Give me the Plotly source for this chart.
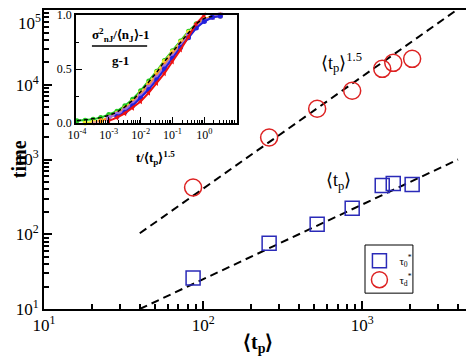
import plotly.graph_objects as go

# ---------------- data ----------------
tp = [86.5, 260, 521, 865, 1336, 1567, 2060]
tau0 = [25.9, 75.9, 136, 222, 450, 479, 464]
taud = [423, 1966, 4786, 8318, 16330, 19640, 22220]

fit_x = [40, 4000]
fit_hi = [103, 103000]
fit_lo = [10, 1000]

inset_x = [1.0e-4, 1.8e-4, 3.2e-4, 5.6e-4, 1.0e-3, 1.8e-3, 3.2e-3, 5.6e-3, 1.0e-2, 1.8e-2,
           3.2e-2, 5.6e-2, 1.0e-1, 1.8e-1, 3.2e-1, 5.6e-1, 1.0, 1.8, 3.2]
inset_green = [0.02, 0.025, 0.035, 0.05, 0.08, 0.11, 0.16, 0.22, 0.30, 0.39, 0.48, 0.58, 0.67, 0.76, 0.85, 0.92, 0.96, 0.99, None]
inset_yellow = [None, 0.0, 0.01, 0.02, 0.05, 0.09, 0.14, 0.20, 0.28, 0.37, 0.47, 0.57, 0.66, 0.75, 0.84, 0.91, 0.95, 0.98, 0.99]
inset_pink = [None, None, 0.0, 0.02, 0.05, 0.09, 0.13, 0.19, 0.27, 0.36, 0.45, 0.55, 0.65, 0.74, 0.83, 0.91, 0.96, 0.99, 1.0]
inset_orange = [None, None, None, 0.02, 0.05, 0.08, 0.13, 0.19, 0.26, 0.35, 0.44, 0.54, 0.64, 0.73, 0.82, 0.90, 0.96, 0.99, 1.0]
inset_violet = [None, None, None, None, 0.05, 0.08, 0.12, 0.18, 0.25, 0.33, 0.42, 0.52, 0.62, 0.72, 0.81, 0.89, 0.95, 0.98, 1.0]
inset_blue = [None, None, None, None, None, 0.06, 0.10, 0.16, 0.23, 0.31, 0.40, 0.50, 0.60, 0.70, 0.79, 0.88, 0.94, 0.98, 0.99]
inset_red = [None, None, None, None, 0.02, 0.05, 0.09, 0.14, 0.20, 0.28, 0.37, 0.46, 0.57, 0.68, 0.80, 0.92, 1.0, None, None]
inset_black = [0.02, 0.03, 0.04, 0.05, 0.07, 0.10, 0.15, 0.21, 0.29, 0.38, 0.47, 0.57, 0.66, 0.75, 0.84, 0.92, 0.97, 0.99, None]

main_xticks = [10, 100, 1000]
main_xticktext = ["10<sup>1</sup>", "10<sup>2</sup>", "10<sup>3</sup>"]
main_yticks = [10, 100, 1000, 10000, 100000]
main_yticktext = ["10<sup>1</sup>", "10<sup>2</sup>", "10<sup>3</sup>", "10<sup>4</sup>", ""]
top_ylabel = "10<sup>5</sup>"
inset_xticks = [1e-4, 1e-3, 1e-2, 1e-1, 1]
inset_xticktext = ["10<sup>-4</sup>", "10<sup>-3</sup>", "10<sup>-2</sup>", "10<sup>-1</sup>", "10<sup>0</sup>"]
inset_yticks = [0, 0.5, 1.0]
inset_yticktext = ["0.0", "0.5", "1.0"]

FONT = "Liberation Serif"

fig = go.Figure()

# main fits
for fy in (fit_hi, fit_lo):
    fig.add_trace(go.Scatter(x=fit_x, y=fy, mode="lines", showlegend=False,
                             line=dict(color="black", width=2, dash="8px,5px"),
                             xaxis="x", yaxis="y"))

fig.add_trace(go.Scatter(x=tp, y=tau0, mode="markers", name="τ<sub>0</sub><sup>*</sup>",
                         marker=dict(symbol="square-open", size=14, color="#2a2ab8",
                                     line=dict(width=1.5, color="#2a2ab8")),
                         xaxis="x", yaxis="y"))
fig.add_trace(go.Scatter(x=tp, y=taud, mode="markers", name="τ<sub>d</sub><sup>*</sup>",
                         marker=dict(symbol="circle-open", size=17, color="#dd2222",
                                     line=dict(width=1.5, color="#dd2222")),
                         xaxis="x", yaxis="y"))

# inset series
inset_series = [
    (inset_green, "#22cc22", "circle"),
    (inset_yellow, "#eeee22", "circle"),
    (inset_pink, "#f0a0a0", "triangle-left"),
    (inset_orange, "#ff9922", "diamond"),
    (inset_violet, "#a070e0", "square"),
    (inset_blue, "#2222dd", "circle"),
    (inset_red, "#ee1111", "triangle-left"),
]
for ys, col, sym in inset_series:
    fig.add_trace(go.Scatter(x=inset_x, y=ys, mode="lines+markers", showlegend=False,
                             line=dict(color=col, width=2),
                             marker=dict(symbol=sym, size=5, color=col),
                             xaxis="x2", yaxis="y2", cliponaxis=False))
fig.add_trace(go.Scatter(x=inset_x, y=inset_black, mode="lines", showlegend=False,
                         line=dict(color="black", width=1.5, dash="4px,3px"),
                         xaxis="x2", yaxis="y2"))

axis_common = dict(showline=True, linewidth=2, linecolor="black", mirror=True,
                   showgrid=False, zeroline=False, ticks="inside", tickcolor="black",
                   tickwidth=1.5, automargin=False)

# the page body adds an 8px offset, so the figure is 8px smaller than the window
fig.update_layout(
    width=466, height=355,
    margin=dict(l=36, r=2, t=2, b=54, autoexpand=False),
    paper_bgcolor="white", plot_bgcolor="white",
    font=dict(family=FONT, color="black"),
    xaxis=dict(type="log", range=[1, 3.69], tickmode="array", tickvals=main_xticks,
               ticktext=main_xticktext, ticklen=8,
               tickfont=dict(size=17, family=FONT, color="black"),
               minor=dict(ticks="inside", ticklen=5, tickcolor="black", tickwidth=1.5,
                          tickmode="array",
                          tickvals=[20, 30, 40, 50, 60, 70, 80, 90, 200, 300, 400, 500, 600, 700, 800, 900,
                                    2000, 3000, 4000]),
               **axis_common),
    yaxis=dict(type="log", range=[1, 5.0002], tickmode="array", tickvals=main_yticks,
               ticktext=main_yticktext, ticklen=8,
               tickfont=dict(size=17, family=FONT, color="black"),
               minor=dict(ticks="inside", ticklen=5, tickcolor="black", tickwidth=1.5,
                          tickmode="array",
                          tickvals=[20, 30, 40, 50, 60, 70, 80, 90, 200, 300, 400, 500, 600, 700, 800, 900,
                                    2000, 3000, 4000, 5000, 6000, 7000, 8000, 9000,
                                    20000, 30000, 40000, 50000, 60000, 70000, 80000, 90000]),
               **axis_common),
    xaxis2=dict(type="log", range=[-4.03, 1.03], domain=[0.0748, 0.451], anchor="y2",
                tickmode="array", tickvals=inset_xticks, ticktext=inset_xticktext, ticklen=6,
                tickfont=dict(size=12, family=FONT, color="black"),
                minor=dict(ticks="inside", ticklen=3, tickcolor="black", tickwidth=1,
                           dtick="D1"),
                showline=True, linewidth=1.5, linecolor="black", mirror=True, automargin=False,
                showgrid=False, zeroline=False, ticks="inside", tickcolor="black", tickwidth=1),
    yaxis2=dict(range=[0, 1.0], domain=[0.622, 0.983], anchor="x2",
                tickmode="array", tickvals=inset_yticks, ticktext=inset_yticktext, ticklen=6,
                tickfont=dict(size=12, family=FONT, color="black"),
                minor=dict(ticks="inside", ticklen=3, tickcolor="black", tickwidth=1,
                           tickmode="array", tickvals=[0.25, 0.75]),
                showline=True, linewidth=1.5, linecolor="black", mirror=True, automargin=False,
                showgrid=False, zeroline=False, ticks="inside", tickcolor="black", tickwidth=1),
    legend=dict(x=0.737, y=0.21, xanchor="left", yanchor="top",
                bordercolor="black", borderwidth=0, bgcolor="rgba(0,0,0,0)",
                font=dict(size=11, family=FONT, color="black"),
                itemwidth=30, tracegroupgap=0),
    showlegend=True,
)

C = dict(xref="paper", yref="paper", showarrow=False, xanchor="center", yanchor="middle")
anns = [
    dict(text="<b>time</b>", x=-0.059, y=0.5, textangle=-90,
         font=dict(size=20, family=FONT), **C),
    dict(text="<b>⟨t<sub>p</sub>⟩</b>", x=0.5, y=-0.115,
         font=dict(size=20, family=FONT), **C),
    dict(text="⟨t<sub>p</sub>⟩<sup>1.5</sup>", x=0.696, y=0.823,
         font=dict(size=18, family=FONT), **C),
    dict(text="⟨t<sub>p</sub>⟩", x=0.689, y=0.425,
         font=dict(size=18, family=FONT), **C),
    dict(text="<b>t/⟨t<sub>p</sub>⟩<sup>1.5</sup></b>", x=0.26, y=0.505,
         font=dict(size=13, family=FONT), **C),
    dict(text="<b>σ<sup>2</sup><sub>nJ</sub>/⟨n<sub>J</sub>⟩-1</b>", x=0.178, y=0.915,
         font=dict(size=13, family=FONT), **C),
    dict(text="<b>g-1</b>", x=0.178, y=0.83,
         font=dict(size=13, family=FONT), **C),
    dict(text=top_ylabel, x=0, y=1, xref="paper", yref="paper", showarrow=False,
         xanchor="right", yanchor="top", xshift=-2, borderpad=0,
         font=dict(size=17, family=FONT)),
]
fig.update_layout(annotations=anns)
fig.add_shape(type="line", xref="paper", yref="paper", x0=0.112, x1=0.241, y0=0.88, y1=0.88,
              line=dict(color="black", width=1.5))
# legend frame
fig.add_shape(type="rect", xref="paper", yref="paper", x0=0.75, x1=0.862, y0=0.053, y1=0.214,
              line=dict(color="black", width=1), fillcolor="rgba(0,0,0,0)")

fig.write_html("out.html")
